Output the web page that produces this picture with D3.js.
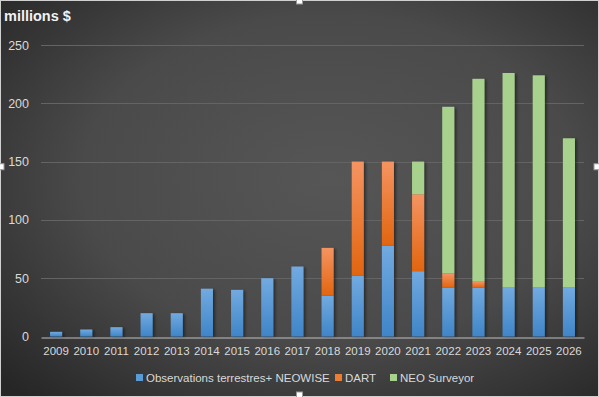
<!DOCTYPE html>
<html>
<head>
<meta charset="utf-8">
<script src="https://cdn.jsdelivr.net/npm/d3@7"></script>
<style>
  body { margin: 0; background: #fff; }
  svg { display: block; font-family: "Liberation Sans", Arial, sans-serif; }
</style>
</head>
<body>
<div id="chart"></div>
<script>
// chart data
const years = ["2009", "2010", "2011", "2012", "2013", "2014", "2015", "2016", "2017",
    "2018", "2019", "2020", "2021", "2022", "2023", "2024", "2025", "2026"];
const observations = [4, 6, 8, 20, 20, 41, 40, 50, 60, 35, 52, 78, 56, 42, 42, 42, 42, 42];
const dart = [0, 0, 0, 0, 0, 0, 0, 0, 0, 41, 98, 72, 66, 12, 5, 0, 0, 0];
const neoSurveyor = [0, 0, 0, 0, 0, 0, 0, 0, 0, 0, 0, 0, 28, 143, 174, 184, 182, 128];
const seriesNames = ["Observations terrestres+ NEOWISE", "DART", "NEO Surveyor"];
const yTicks = [0, 50, 100, 150, 200, 250];

function drawChart() {
    const W = 599, H = 397;
    const margin = { top: 45, right: 15, bottom: 61, left: 41 };

    const svg = d3.select("#chart")
        .append("svg")
        .attr("width", W)
        .attr("height", H);

    const defs = svg.append("defs");

    // dark background, lighter in the middle
    const bg = defs.append("radialGradient")
        .attr("id", "bg")
        .attr("cx", "55%").attr("cy", "45%").attr("r", "75%");
    bg.append("stop").attr("offset", "0%").attr("stop-color", "#565656");
    bg.append("stop").attr("offset", "55%").attr("stop-color", "#4a4a4a");
    bg.append("stop").attr("offset", "100%").attr("stop-color", "#262626");

    const grad = (id, top, bottom) => {
        const g = defs.append("linearGradient")
            .attr("id", id).attr("x1", 0).attr("y1", 0).attr("x2", 0).attr("y2", 1);
        g.append("stop").attr("offset", "0%").attr("stop-color", top);
        g.append("stop").attr("offset", "100%").attr("stop-color", bottom);
    };
    grad("gBlue", "#72aae0", "#3f85c8");
    grad("gOrange", "#f59461", "#e2650f");
    grad("gGreen", "#a9d18e", "#a9d18e");

    const shadow = defs.append("filter").attr("id", "shadow")
        .attr("x", "-50%").attr("y", "-10%").attr("width", "200%").attr("height", "120%");
    shadow.append("feDropShadow")
        .attr("dx", 2).attr("dy", 1).attr("stdDeviation", 1.5)
        .attr("flood-color", "#000").attr("flood-opacity", 0.45);

    svg.append("rect")
        .attr("x", 0.5).attr("y", 0.5)
        .attr("width", W - 1).attr("height", H - 1)
        .attr("fill", "url(#bg)")
        .attr("stroke", "#d0d0d0");

    const width = W - margin.left - margin.right;
    const height = H - margin.top - margin.bottom;

    const x = d3.scaleBand()
        .domain(years)
        .range([margin.left, margin.left + width])
        .paddingInner(0.6)
        .paddingOuter(0.3);

    const y = d3.scaleLinear()
        .domain([0, 250])
        .range([margin.top + height + 0.5, margin.top]);

    // gridlines
    svg.append("g")
        .selectAll("line")
        .data(yTicks.filter(d => d > 0))
        .enter()
        .append("line")
        .attr("x1", margin.left)
        .attr("x2", margin.left + width)
        .attr("y1", d => Math.round(y(d)) + 0.5)
        .attr("y2", d => Math.round(y(d)) + 0.5)
        .attr("stroke", "#646464")
        .attr("stroke-width", 1);

    // stack the three series
    const table = years.map((yr, i) => ({
        year: yr, obs: observations[i], dart: dart[i], neo: neoSurveyor[i]
    }));
    const keys = ["obs", "dart", "neo"];
    const fills = { obs: "url(#gBlue)", dart: "url(#gOrange)", neo: "url(#gGreen)" };
    const stacked = d3.stack().keys(keys)(table);

    const bars = svg.append("g").attr("filter", "url(#shadow)");
    stacked.forEach(layer => {
        bars.selectAll(".bar-" + layer.key)
            .data(layer.filter(d => d[1] > d[0]))
            .enter()
            .append("rect")
            .attr("class", "bar-" + layer.key)
            .attr("x", d => x(d.data.year))
            .attr("y", d => y(d[1]))
            .attr("width", x.bandwidth())
            .attr("height", d => y(d[0]) - y(d[1]))
            .attr("fill", fills[layer.key]);
    });

    // x-axis
    const xAxis = svg.append("g")
        .attr("transform", `translate(0,${Math.round(y(0)) + 0.5})`)
        .call(d3.axisBottom(x).tickSize(0).tickPadding(9));
    xAxis.select(".domain").attr("stroke", "#bfbfbf");
    xAxis.selectAll("text")
        .attr("fill", "#d9d9d9")
        .style("font-size", "11.5px");

    // y-axis
    const yAxis = svg.append("g")
        .attr("transform", `translate(29,0)`)
        .call(d3.axisLeft(y).tickValues(yTicks).tickSize(0).tickPadding(0));
    yAxis.select(".domain").remove();
    yAxis.selectAll("text")
        .attr("fill", "#d9d9d9")
        .style("font-size", "12.5px");

    // unit label
    svg.append("text")
        .attr("x", 4)
        .attr("y", 21)
        .attr("fill", "#f2f2f2")
        .style("font-size", "14.5px")
        .style("font-weight", "bold")
        .text("millions $");

    // legend
    const legendX = [136, 335, 390];
    const legendColors = ["#5b9bd5", "#ed7d31", "#a9d18e"];
    const legend = svg.append("g");
    seriesNames.forEach((name, i) => {
        legend.append("rect")
            .attr("x", legendX[i]).attr("y", 374)
            .attr("width", 7).attr("height", 7)
            .attr("fill", legendColors[i]);
        legend.append("text")
            .attr("x", legendX[i] + 10).attr("y", 382)
            .attr("fill", "#d9d9d9")
            .style("font-size", "11.5px")
            .text(name);
    });

    // selection handles of the chart frame
    const handles = [[W / 2, 1], [W - 2, H * 0.42], [W / 2, H - 2], [1, H * 0.42]];
    svg.append("g")
        .selectAll("rect")
        .data(handles)
        .enter()
        .append("rect")
        .attr("x", d => d[0] - 3).attr("y", d => d[1] - 3)
        .attr("width", 6).attr("height", 6)
        .attr("fill", "#fff").attr("stroke", "#999");
}

drawChart();
</script>
</body>
</html>
